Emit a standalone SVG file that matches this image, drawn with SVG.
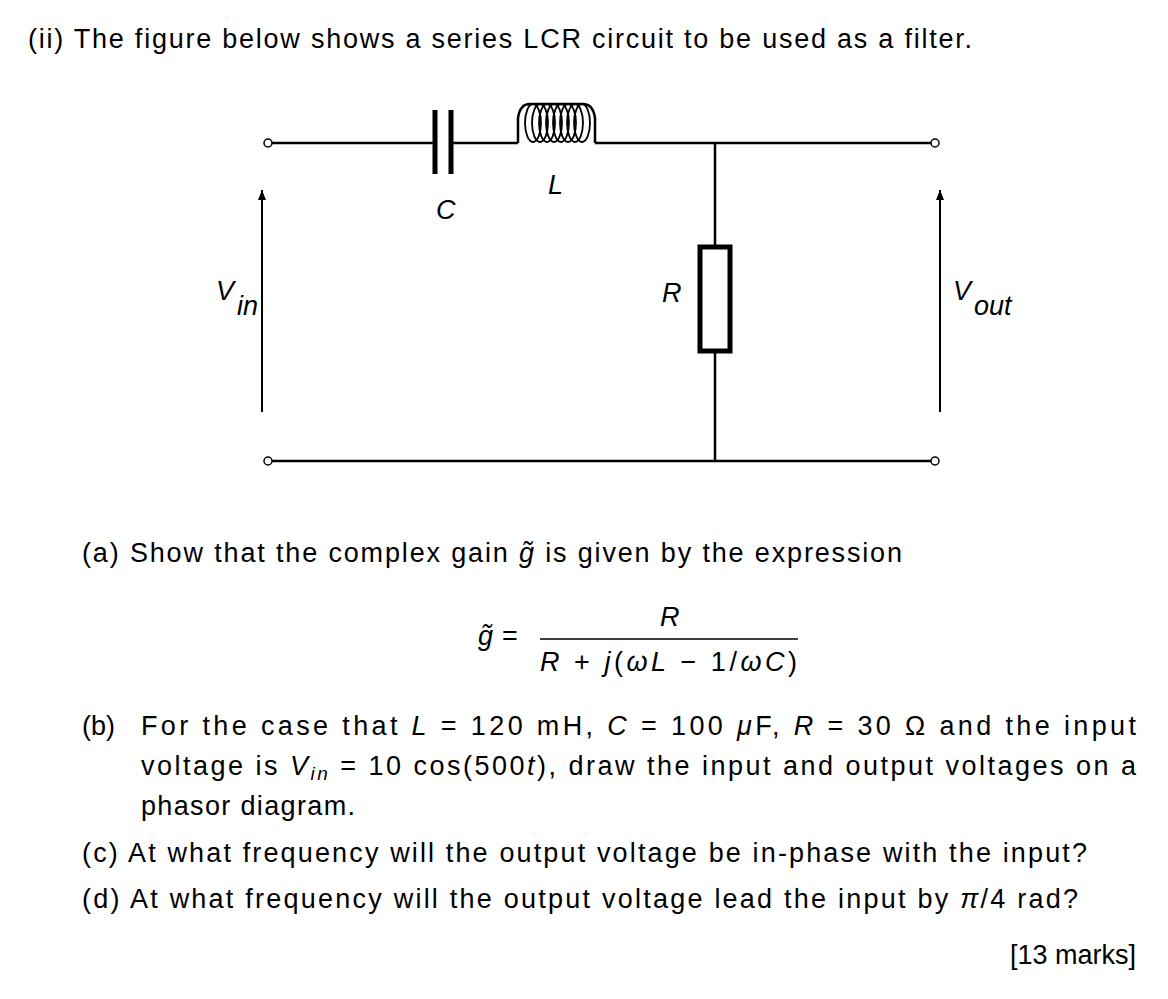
<svg xmlns="http://www.w3.org/2000/svg" width="1168" height="999" viewBox="0 0 1168 999">
<style>
text{font-family:"Liberation Sans",Arial,sans-serif;font-size:27px;fill:#000}
.i{font-style:italic}
.w{stroke:#000;stroke-width:2.5;fill:none}
.t{stroke:#000;stroke-width:1.5;fill:#fff}
</style>
<defs><marker id="a" markerWidth="12" markerHeight="10" refX="10" refY="4" orient="auto" markerUnits="userSpaceOnUse"><path d="M0,0 L10,4 L0,8 Z" fill="#000"/></marker></defs>
<rect width="1168" height="999" fill="#fff"/>
<text x="28" y="48" textLength="944">(ii) The figure below shows a series LCR circuit to be used as a filter.</text>
<g id="connectors">
<path class="w" d="M272,143 H434 M450,143 H518 M595,143 H931 M272,461 H931 M715,143 V247 M715,351 V461"/>
<path stroke="#000" stroke-width="2" d="M262,412 V190" marker-end="url(#a)"/>
<path stroke="#000" stroke-width="2" d="M940,412 V190" marker-end="url(#a)"/>
</g>
<g id="term"><circle class="t" cx="268" cy="143" r="4"/><circle class="t" cx="935" cy="143" r="4"/><circle class="t" cx="268" cy="461" r="4"/><circle class="t" cx="935" cy="461" r="4"/></g>
<g id="C"><path stroke="#000" stroke-width="5" d="M435,110 V174 M451,110 V174"/><text class="i" x="436" y="219">C</text></g>
<g id="L" class="w" stroke-width="2">
<path d="M518,143 V118 Q520,104 530,104 H583 Q593,104 595,118 V143"/>
<ellipse cx="533" cy="123" rx="8" ry="19" style="stroke-width:1.8"/><ellipse cx="540" cy="123" rx="8" ry="19" style="stroke-width:1.8"/><ellipse cx="547" cy="123" rx="8" ry="19" style="stroke-width:1.8"/><ellipse cx="554" cy="123" rx="8" ry="19" style="stroke-width:1.8"/><ellipse cx="561" cy="123" rx="8" ry="19" style="stroke-width:1.8"/><ellipse cx="568" cy="123" rx="8" ry="19" style="stroke-width:1.8"/><ellipse cx="575" cy="123" rx="8" ry="19" style="stroke-width:1.8"/><ellipse cx="582" cy="123" rx="8" ry="19" style="stroke-width:1.8"/>
</g>
<text class="i" x="548" y="194">L</text>
<g id="R"><rect x="700" y="247" width="30" height="104" fill="#fff" stroke="#000" stroke-width="5"/><text class="i" x="662" y="302">R</text></g>
<g id="Vin"><text class="i" x="216" y="300" font-size="30">V</text><text class="i" x="237" y="315" font-size="18">in</text></g>
<g id="Vout"><text class="i" x="953" y="300" font-size="30">V</text><text class="i" x="974" y="315" font-size="18">out</text></g>
<text x="82" y="562" textLength="820">(a) Show that the complex gain <tspan class="i">g̃</tspan> is given by the expression</text>
<text class="i" x="478" y="645" font-size="30">g̃</text><text x="502" y="645" font-size="30">=</text>
<text class="i" x="660" y="626" font-size="29">R</text>
<line x1="540" y1="639" x2="798" y2="639" stroke="#000" stroke-width="1.5"/>
<text x="540" y="671" font-size="29" textLength="257"><tspan class="i">R</tspan> + <tspan class="i">j</tspan>(<tspan class="i">ωL</tspan> − 1/<tspan class="i">ωC</tspan>)</text>
<text x="82" y="735">(b)</text>
<text x="141" y="735" textLength="995">For the case that <tspan class="i">L</tspan> = 120 mH, <tspan class="i">C</tspan> = 100 <tspan class="i">μ</tspan>F, <tspan class="i">R</tspan> = 30 Ω and the input</text>
<text x="141" y="775" textLength="995">voltage is <tspan class="i">V</tspan><tspan class="i" font-size="19" dy="5">in</tspan><tspan dy="-5"> = 10 cos(500<tspan class="i">t</tspan>), draw the input and output voltages on a</tspan></text>
<text x="141" y="815" textLength="214">phasor diagram.</text>
<text x="82" y="862" textLength="1005">(c) At what frequency will the output voltage be in-phase with the input?</text>
<text x="82" y="908" textLength="996">(d) At what frequency will the output voltage lead the input by <tspan class="i">π</tspan>/4 rad?</text>
<text x="1136" y="964" text-anchor="end">[13 marks]</text>
</svg>
